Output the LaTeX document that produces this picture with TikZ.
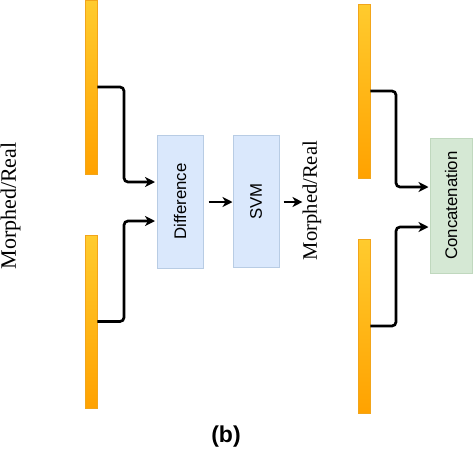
\documentclass[tikz,border=0pt]{standalone}
\usepackage{fontspec}
\setmainfont{Liberation Serif}
\setsansfont{Liberation Sans}
\usetikzlibrary{arrows.meta,calc}
\definecolor{bartop}{HTML}{FFCB2E}
\definecolor{barbot}{HTML}{FFA200}
\definecolor{barline}{HTML}{F2A51A}
\definecolor{bluefill}{HTML}{DAE8FC}
\definecolor{blueline}{HTML}{B8CCE4}
\definecolor{greenfill}{HTML}{D5E8D4}
\definecolor{greenline}{HTML}{C0D8BE}
\begin{document}
\begin{tikzpicture}[x=1pt,y=-1pt,
  bar/.style={rectangle, inner sep=0pt, minimum width=12pt, minimum height=174pt,
    top color=bartop, bottom color=barbot, draw=barline, line width=0.6pt},
  procbox/.style={rectangle, inner sep=0pt, minimum width=46pt, minimum height=133pt,
    fill=bluefill, draw=blueline, line width=1pt},
  catbox/.style={rectangle, inner sep=0pt, minimum width=42pt, minimum height=135pt,
    fill=greenfill, draw=greenline, line width=1pt},
  boxtext/.style={font=\sffamily\fontsize{16.8}{20}\selectfont, rotate=90, inner sep=0pt},
  conn/.style={line width=2.7pt, rounded corners=4pt, -{Stealth[length=10pt,width=10pt,inset=3pt]}},
  outtext/.style={rotate=90, inner sep=0pt}
]
\useasboundingbox (0,0) rectangle (474,474);
\fill[white] (0,0) rectangle (474,474);

% bars
\node[bar] (lt) at (91,87) {};
\node[bar, minimum height=173pt] (lb) at (91,321.5) {};
\node[bar] (rt) at (364,91) {};
\node[bar] (rb) at (364,326) {};

% boxes
\node[procbox] (diff) at (180,201.5) {};
\node[boxtext] at (diff.center) {Difference};
\node[procbox, minimum height=132pt] (svm) at (256,201.5) {};
\node[boxtext] at (svm.center) {SVM};
\node[catbox] (cat) at (451,205.5) {};
\node[boxtext] at (cat.center) {Concatenation};

% texts
\node[outtext, font=\fontsize{22}{26}\selectfont] (mr1) at (10.5,206) {Morphed/Real};
\node[outtext, font=\fontsize{20.6}{24}\selectfont] (mr2) at (312,200.5) {Morphed/Real};
\node[font=\sffamily\bfseries\fontsize{23}{27}\selectfont] (lab) at (226,437) {(b)};

% junction coordinates
\coordinate (lj) at (124,0);
\coordinate (rj) at (396,0);
\coordinate (d1) at ($(diff.west)+(-1.5,-19.5)$);
\coordinate (d2) at ($(diff.west)+(-1.5,19.5)$);
\coordinate (c1) at ($(cat.west)+(-1,-18.5)$);
\coordinate (c2) at ($(cat.west)+(-1,21.5)$);

% connectors
\draw[conn] (lt.east) -- (lt.east -| lj) |- (d1);
\draw[conn] (lb.east) -- (lb.east -| lj) |- (d2);
\draw[conn] (rt.east) -- (rt.east -| rj) |- (c1);
\draw[conn] (rb.east) -- (rb.east -| rj) |- (c2);
\draw[conn] ([xshift=5pt,yshift=-0.5pt]diff.east) -- ([yshift=-0.5pt]svm.west);
\draw[conn] ([xshift=4pt,yshift=-0.5pt]svm.east) -- (mr2.north |- 0,202);
\end{tikzpicture}
\end{document}
